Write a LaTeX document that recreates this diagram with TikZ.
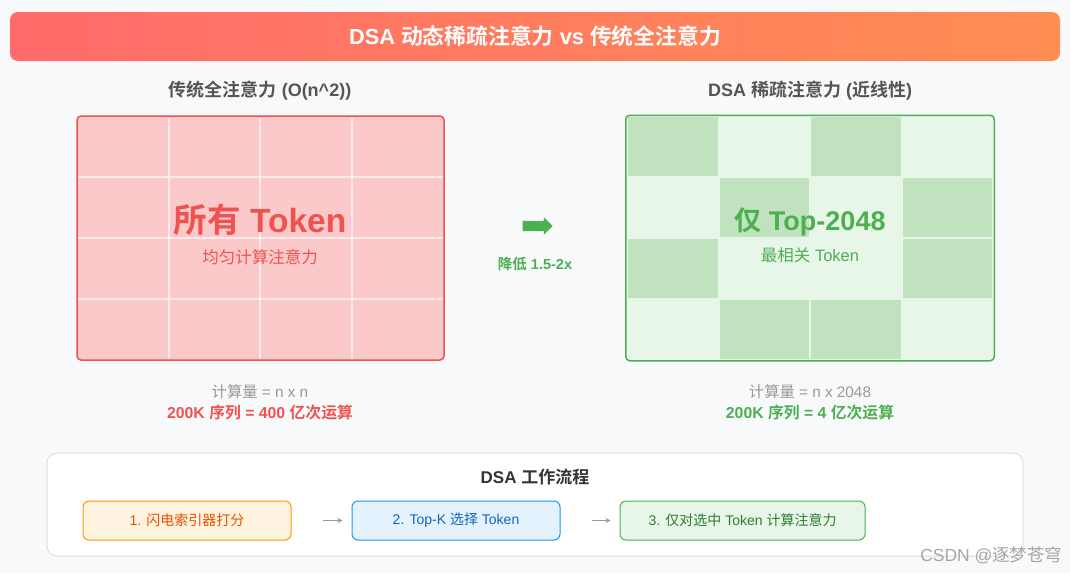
\documentclass[tikz,border=0pt]{standalone}
\usepackage{fontspec}
\setmainfont{Liberation Sans}
\newfontfamily\cjk{Noto Sans CJK SC}[BoldFont={Noto Sans CJK SC Bold}]
\newcommand\zh[1]{{\cjk #1}}
\usepackage{tikz}
\usetikzlibrary{arrows.meta,shapes.arrows,positioning,calc}
\definecolor{fond}{HTML}{F8F9FB}
\definecolor{rouge}{HTML}{EF5350}
\definecolor{rose}{HTML}{FBC9C9}
\definecolor{vert}{HTML}{4CAF50}
\definecolor{vertfonce}{HTML}{C0E2BF}
\definecolor{vertclair}{HTML}{E8F5E9}
\definecolor{gris}{HTML}{999999}
\definecolor{grisfonce}{HTML}{555555}
\definecolor{orange}{HTML}{FF9800}
\definecolor{orangeclair}{HTML}{FFF3E0}
\definecolor{orangetexte}{HTML}{E65100}
\definecolor{bleu}{HTML}{2196F3}
\definecolor{bleuclair}{HTML}{E3F2FD}
\definecolor{bleutexte}{HTML}{1565C0}
\definecolor{verttexte}{HTML}{2E7D32}
\definecolor{titregauche}{HTML}{FF6B6B}
\definecolor{titredroite}{HTML}{FF8E53}

\begin{document}
\begin{tikzpicture}[x=1pt,y=-1pt,
  boite/.style={rectangle,rounded corners=4pt,line width=1.5pt,inner sep=0pt,minimum width=367pt,minimum height=244pt},
  soustitre/.style={font=\fontsize{18}{20}\selectfont\bfseries,text=grisfonce},
  etape/.style={rectangle,rounded corners=6pt,line width=1pt,minimum height=39pt,font=\fontsize{14}{16}\selectfont},
  calcul/.style={font=\fontsize{15.3}{17}\selectfont,text=gris},
  resultat/.style={font=\fontsize{15.8}{18}\selectfont\bfseries},
  fleche/.style={gris,line width=1pt,-{Stealth[length=5pt,width=5pt]}}]
\useasboundingbox[fill=fond] (0,0) rectangle (1070,573);

% bandeau du titre
\node (titre) at (535,36.5) [rectangle,rounded corners=8pt,left color=titregauche,right color=titredroite,minimum width=1050pt,minimum height=49pt,text=white,font=\fontsize{21.8}{24}\selectfont\bfseries] {DSA \zh{动态稀疏注意力} vs \zh{传统全注意力}};

% les deux sous-titres
\node (stplein) at (260,91) [soustitre] {\zh{传统全注意力} (O(n\^{}2))};
\node (stdsa) at (810,91) [soustitre] {DSA \zh{稀疏注意力} (\zh{近线性})};

% matrice pleine
\node (plein) at (260.5,238) [boite,draw=rouge,fill=rose] {};
\foreach \x in {169,260,352}
  \draw[white,opacity=.6,line width=1.5pt] (\x,117.5) -- (\x,358.5);
\foreach \y in {177,238,299}
  \draw[white,opacity=.6,line width=1.2pt] (78,\y) -- (443,\y);
\node (tous) at (260,220) [text=rouge,font=\fontsize{33.5}{36}\selectfont\bfseries] {\zh{所有} Token};
\node (uniforme) at (260,257) [text=rouge,font=\fontsize{16.5}{18}\selectfont] {\zh{均匀计算注意力}};

% fleche centrale
\node (gain) at (535,226) [single arrow,fill=vert,draw=none,inner xsep=0pt,inner ysep=5pt,single arrow head extend=3.5pt,minimum height=30pt,single arrow tip angle=90] {};
\node (reduc) at (535,264) [text=vert,font=\fontsize{14.5}{16}\selectfont\bfseries] {\zh{降低} 1.5-2x};

% matrice creuse
\node (creux) at (810,238) [boite,fill=vertclair] {};
\foreach \c/\r in {0/0,2/0,1/1,3/1,0/2,3/2,1/3,2/3}
  \fill[vertfonce] (627+\c*91.5+1,116+\r*61+1) rectangle (627+\c*91.5+90.5,116+\r*61+60);
\draw[vert,line width=1.5pt,rounded corners=4pt] (creux.north west) rectangle (creux.south east);
\node (top) at (810,222) [text=vert,font=\fontsize{27}{30}\selectfont\bfseries] {\zh{仅} Top-2048};
\node (pertinent) at (810,255) [text=vert,font=\fontsize{16.5}{18}\selectfont] {\zh{最相关} Token};

% couts
\node (coutplein) at (260,392) [calcul] {\zh{计算量} = n x n};
\node (opplein) at (260,413) [resultat,text=rouge] {200K \zh{序列} = 400 \zh{亿次运算}};
\node (coutdsa) at (810,392) [calcul] {\zh{计算量} = n x 2048};
\node (opdsa) at (810,413) [resultat,text=vert] {200K \zh{序列} = 4 \zh{亿次运算}};

% flux de travail
\node (flux) at (535,504.5) [rectangle,rounded corners=10pt,draw=black!13,line width=1pt,fill=white,minimum width=976pt,minimum height=103pt] {};
\node (fluxtitre) at (535,477) [text=black!80,font=\fontsize{17}{19}\selectfont\bfseries] {DSA \zh{工作流程}};
\node (e1) at (187,520.5) [etape,draw=orange,fill=orangeclair,text=orangetexte,minimum width=208pt] {1. \zh{闪电索引器打分}};
\node (e2) at (456,520.5) [etape,draw=bleu,fill=bleuclair,text=bleutexte,minimum width=208pt] {2. Top-K \zh{选择} Token};
\node (e3) at (742.5,520.5) [etape,draw=vert,fill=vertclair,text=verttexte,minimum width=245pt] {3. \zh{仅对选中} Token \zh{计算注意力}};
\draw[fleche,shorten <=31pt,shorten >=9pt] (e1) -- (e2);
\draw[fleche,shorten <=31pt,shorten >=9pt] (e2) -- (e3);

% filigrane
\node (filigrane) at (1066,555) [anchor=east,text=black!35,font=\fontsize{17.5}{19}\selectfont] {CSDN @\zh{逐梦苍穹}};
\end{tikzpicture}
\end{document}
